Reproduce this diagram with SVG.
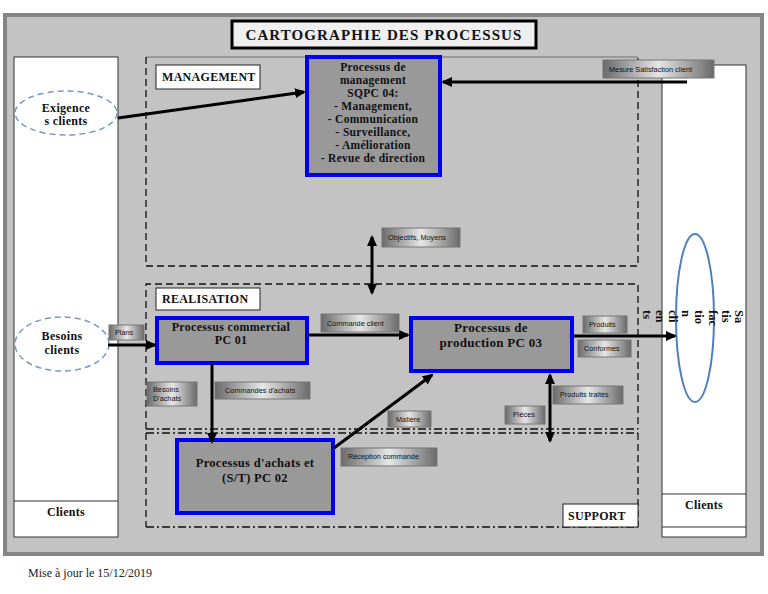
<svg xmlns="http://www.w3.org/2000/svg" width="768" height="594" viewBox="0 0 768 594">
<defs>
<linearGradient id="metal" x1="0" y1="0" x2="1" y2="0">
<stop offset="0" stop-color="#6a6a6a"/>
<stop offset="0.5" stop-color="#e6e6e6"/>
<stop offset="1" stop-color="#6a6a6a"/>
</linearGradient>
<marker id="ah" markerUnits="userSpaceOnUse" markerWidth="11" markerHeight="10" viewBox="0 0 11 10" refX="9" refY="5" orient="auto-start-reverse">
<path d="M0,0 L11,5 L0,10 z" fill="#000"/>
</marker>
<style>
.col{fill:#fff;stroke:#333;stroke-width:1}
.dash{fill:none;stroke:#111;stroke-width:1.3;stroke-dasharray:7 4}
.dd{fill:none;stroke:#111;stroke-width:1.3;stroke-dasharray:8 3 2 3}
.tag{fill:#fff;stroke:#222;stroke-width:1}
.tagt{font-family:"Liberation Serif",serif;font-weight:bold;font-size:12px;fill:#111;letter-spacing:0.3px}
.proc{fill:#999;stroke:#0000ee;stroke-width:4}
.pt{font-family:"Liberation Serif",serif;font-weight:bold;fill:#111;text-anchor:middle;letter-spacing:0.3px}
.lab{fill:url(#metal);stroke:#777;stroke-width:1}
.lt{font-family:"Liberation Sans",Arial,sans-serif;font-size:7.3px;fill:#111}
.ell{fill:#fff;stroke:#7b98c4;stroke-width:1.5;stroke-dasharray:6 4}
.con{fill:none;stroke:#000;stroke-width:3;marker-end:url(#ah)}
.con2{fill:none;stroke:#000;stroke-width:3;marker-end:url(#ah);marker-start:url(#ah)}
</style>
</defs>
<rect width="768" height="594" fill="#fff"/>
<rect x="5" y="15" width="757" height="539" fill="#c3c3c3" stroke="#858585" stroke-width="4"/>

<g id="title">
<rect x="232" y="21" width="304" height="27" fill="#efefef" stroke="#000" stroke-width="3"/>
<text x="384" y="40" text-anchor="middle" font-family="Liberation Serif,serif" font-weight="bold" font-size="15" letter-spacing="1.1" fill="#111">CARTOGRAPHIE DES PROCESSUS</text>
</g>

<g id="left-clients">
<rect class="col" x="14" y="57" width="104" height="480"/>
<line x1="14" y1="501" x2="118" y2="501" stroke="#333"/>
<text x="66" y="516" class="pt" font-size="12">Clients</text>
</g>

<g id="right-clients">
<rect class="col" x="662" y="65" width="84" height="472"/>
<line x1="662" y1="494" x2="746" y2="494" stroke="#333"/>
<line x1="662" y1="527" x2="746" y2="527" stroke="#333"/>
<text x="704" y="509" class="pt" font-size="12">Clients</text>
</g>

<g id="zone-management">
<line x1="146" y1="57" x2="638" y2="57" stroke="#8a8a8a" stroke-width="1.5"/>
<path class="dash" d="M146,57 V266 H638 V57"/>
<rect class="tag" x="156" y="65" width="104" height="24"/>
<text x="162" y="81" class="tagt">MANAGEMENT</text>
</g>

<g id="zone-realisation">
<path class="dash" d="M146,429 V284 H638 V429"/>
<line class="dd" x1="146" y1="429" x2="638" y2="429"/>
<rect class="tag" x="156" y="288" width="104" height="22"/>
<text x="162" y="303" class="tagt">REALISATION</text>
</g>

<g id="zone-support">
<line class="dd" x1="146" y1="433" x2="638" y2="433"/>
<line class="dd" x1="146" y1="527" x2="638" y2="527"/>
<path class="dash" d="M146,433 V527 M638,433 V527"/>
<rect class="tag" x="563" y="504" width="75" height="23"/>
<text x="568" y="520" class="tagt">SUPPORT</text>
</g>

<g id="exigence-clients">
<ellipse class="ell" cx="66" cy="113" rx="51" ry="22"/>
<text class="pt" font-size="12"><tspan x="66" y="112">Exigence</tspan><tspan x="66" y="125">s clients</tspan></text>
</g>

<g id="besoins-clients">
<ellipse class="ell" cx="62" cy="344" rx="47" ry="27"/>
<text class="pt" font-size="12"><tspan x="62" y="340">Besoins</tspan><tspan x="62" y="354">clients</tspan></text>
</g>

<g id="satisfaction-clients">
<ellipse cx="695" cy="318" rx="19" ry="84" fill="none" stroke="#4f7fbd" stroke-width="2"/>
<text transform="translate(735,310) rotate(90)" font-family="Liberation Serif,serif" font-weight="bold" font-size="12.5" fill="#111"><tspan x="0" y="0">Sa</tspan><tspan x="0" dy="13.2">tis</tspan><tspan x="0" dy="13.2">fac</tspan><tspan x="0" dy="13.2">tio</tspan><tspan x="0" dy="13.2">n</tspan><tspan x="0" dy="13.2">cli</tspan><tspan x="0" dy="13.2">en</tspan><tspan x="0" dy="13.2">ts</tspan></text>
</g>

<g id="pm-sqpc04">
<rect class="proc" x="307" y="57" width="133" height="118"/>
<text class="pt" font-size="11.5"><tspan x="373" y="71">Processus de</tspan><tspan x="373" y="84">management</tspan><tspan x="373" y="97">SQPC 04:</tspan><tspan x="373" y="110">- Management,</tspan><tspan x="373" y="123">- Communication</tspan><tspan x="373" y="136">- Surveillance,</tspan><tspan x="373" y="149">- Amélioration</tspan><tspan x="373" y="162">- Revue de direction</tspan></text>
</g>

<g id="pc01">
<rect class="proc" x="157" y="318" width="150" height="45" stroke-width="3"/>
<text class="pt" font-size="12" letter-spacing="0.7"><tspan x="231" y="331">Processus commercial</tspan><tspan x="231" y="344">PC 01</tspan></text>
</g>

<g id="pc03">
<rect class="proc" x="411" y="318" width="161" height="53"/>
<text class="pt" font-size="13"><tspan x="491" y="332">Processus de</tspan><tspan x="491" y="347">production PC 03</tspan></text>
</g>

<g id="pc02">
<rect class="proc" x="177" y="440" width="156" height="73"/>
<text class="pt" font-size="12.5"><tspan x="255" y="467">Processus d'achats et</tspan><tspan x="255" y="482">(S/T)  PC 02</tspan></text>
</g>

<g id="connectors">
<path class="con" d="M118,118 L304,92"/>
<path class="con" d="M687,82 L443,82"/>
<path class="con2" d="M372,237 L372,293"/>
<path class="con" d="M108,345 L155,345"/>
<path class="con" d="M308,335 L408,335"/>
<path class="con" d="M574,336 L675,336"/>
<path class="con" d="M212,364 L212,442"/>
<path class="con" d="M334,448 L432,375"/>
<path class="con2" d="M550,375 L550,441"/>
</g>

<g id="flow-labels">
<rect class="lab" x="603" y="60" width="111" height="18"/>
<text class="lt" x="609" y="72">Mesure Satisfaction client</text>
<rect class="lab" x="382" y="228" width="78" height="19"/>
<text class="lt" x="388" y="240">Objectifs, Moyens</text>
<rect class="lab" x="109" y="325" width="35" height="15"/>
<text class="lt" x="115" y="335">Plans</text>
<rect class="lab" x="321" y="314" width="78" height="18"/>
<text class="lt" x="327" y="326">Commande client</text>
<rect class="lab" x="583" y="316" width="44" height="17"/>
<text class="lt" x="589" y="327">Produits</text>
<rect class="lab" x="578" y="340" width="53" height="17"/>
<text class="lt" x="584" y="351">Conformes</text>
<rect class="lab" x="147" y="382" width="50" height="24"/>
<text class="lt"><tspan x="153" y="392">Besoins</tspan><tspan x="153" y="401">D'achats</tspan></text>
<rect class="lab" x="215" y="382" width="95" height="17"/>
<text class="lt" x="225" y="393">Commandes d'achats</text>
<rect class="lab" x="553" y="386" width="70" height="18"/>
<text class="lt" x="560" y="397">Produits traités</text>
<rect class="lab" x="505" y="406" width="40" height="18"/>
<text class="lt" x="513" y="417">Pièces</text>
<rect class="lab" x="388" y="411" width="43" height="16"/>
<text class="lt" x="396" y="422">Matière</text>
<rect class="lab" x="341" y="448" width="96" height="18"/>
<text class="lt" x="348" y="459">Réception commande</text>
</g>

<text x="28" y="577" font-family="Liberation Serif,serif" font-size="12" fill="#222">Mise à jour le 15/12/2019</text>
</svg>
